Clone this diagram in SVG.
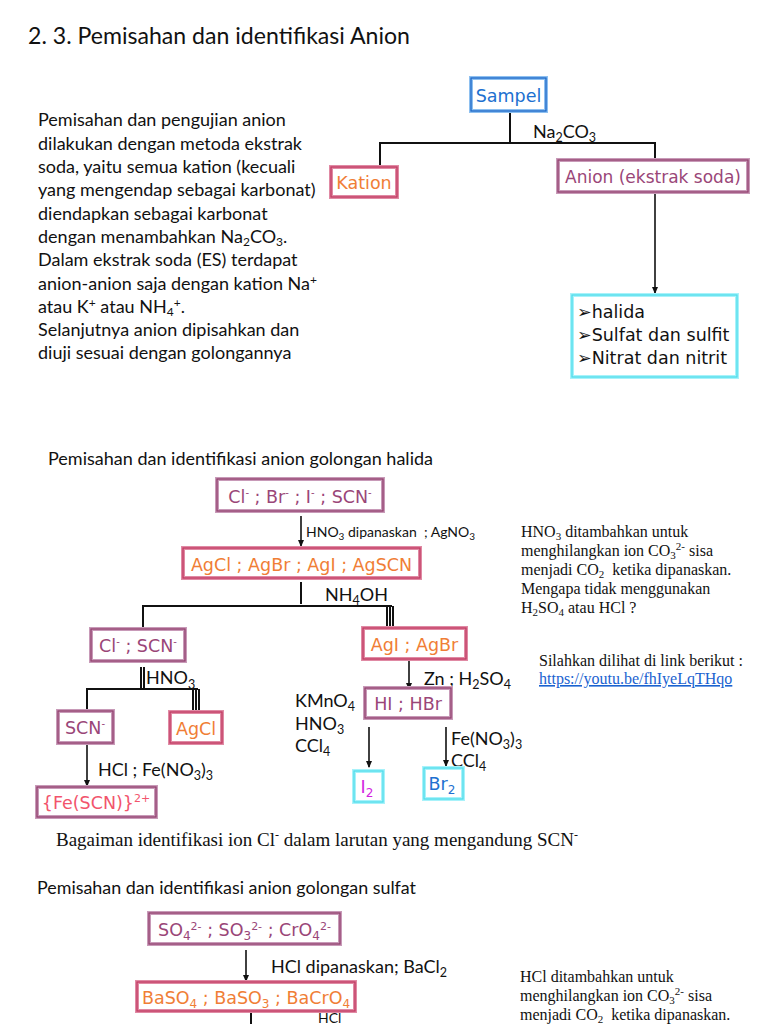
<svg xmlns="http://www.w3.org/2000/svg" width="768" height="1024" viewBox="0 0 768 1024">
<style>
.t{font-family:Lato,"Open Sans",sans-serif;fill:#111}
.bt{font-family:"DejaVu Sans",Verdana,sans-serif}
.sr{font-family:"Liberation Serif","Times New Roman",serif;fill:#111}
.pre{white-space:pre}
.mv{fill:#9a4678}.or{fill:#f07e36}.bl{fill:#2070d0}.rd{fill:#f2546c}.mg{fill:#d21ee0}.bk{fill:#111}
.bm{fill:#fff;stroke:#c89ab8;stroke-width:4}.im{fill:none;stroke:#93406f;stroke-width:1.3}
.br{fill:#fff;stroke:#e08aa4;stroke-width:4}.ir{fill:none;stroke:#c23a62;stroke-width:1.3}
.bb{fill:#fff;stroke:#8ec0f0;stroke-width:4}.ib{fill:none;stroke:#1c68c8;stroke-width:1.3}
.bc{fill:#fff;stroke:#a8f2fa;stroke-width:4}.ic{fill:none;stroke:#4fdcec;stroke-width:1.3}
.c{stroke:#111;stroke-width:2;fill:none}
.a{stroke:#111;stroke-width:1.6;fill:none;marker-end:url(#ah)}
</style>
<defs>
<marker id="ah" markerWidth="8" markerHeight="8" refX="6" refY="4" orient="auto" markerUnits="userSpaceOnUse">
<path d="M0,1 L7,4 L0,7 Z" fill="#111"/>
</marker>
</defs>
<rect width="768" height="1024" fill="#fff"/>

<text class="t" x="28" y="44" font-size="24" textLength="382" lengthAdjust="spacingAndGlyphs">2. 3. Pemisahan dan identifikasi Anion</text>

<g id="intro" class="t" font-size="18">
<text x="38" y="126">Pemisahan dan pengujian anion</text>
<text x="38" y="150">dilakukan dengan metoda ekstrak</text>
<text x="38" y="173">soda, yaitu semua kation (kecuali</text>
<text x="38" y="196">yang mengendap sebagai karbonat)</text>
<text x="38" y="220">diendapkan sebagai karbonat</text>
<text x="38" y="243">dengan menambahkan Na<tspan dy="3" font-size="12">2</tspan><tspan dy="-3">CO</tspan><tspan dy="3" font-size="12">3</tspan><tspan dy="-3">.</tspan></text>
<text x="38" y="266">Dalam ekstrak soda (ES) terdapat</text>
<text x="38" y="290">anion-anion saja dengan kation Na<tspan dy="-6" font-size="12">+</tspan></text>
<text x="38" y="313">atau K<tspan dy="-6" font-size="12">+</tspan><tspan dy="6"> atau NH</tspan><tspan dy="3" font-size="12">4</tspan><tspan dy="-9" font-size="12">+</tspan><tspan dy="6">.</tspan></text>
<text x="38" y="336">Selanjutnya anion dipisahkan dan</text>
<text x="38" y="359">diuji sesuai dengan golongannya</text>
</g>

<g id="connectors">
<line class="c" x1="510" y1="111" x2="510" y2="143"/>
<line class="c" x1="379" y1="143" x2="656" y2="143"/>
<line class="c" x1="380" y1="142" x2="380" y2="166" stroke-width="3"/>
<line class="c" x1="655" y1="142" x2="655" y2="160"/>
<line class="a" x1="655" y1="192" x2="655" y2="293"/>
<line class="a" x1="301" y1="516" x2="301" y2="546"/>
<line class="c" x1="301" y1="582" x2="301" y2="604"/>
<line class="c" x1="142" y1="606" x2="392" y2="606"/>
<line class="c" x1="143" y1="605" x2="143" y2="628"/>
<line class="c" x1="387" y1="606" x2="387" y2="627" stroke-width="1.2"/>
<line class="c" x1="390" y1="606" x2="390" y2="627" stroke-width="1.2"/>
<line class="c" x1="393" y1="606" x2="393" y2="627" stroke-width="1.2"/>
<line class="c" x1="141" y1="667" x2="141" y2="689" stroke-width="1.2"/>
<line class="c" x1="144" y1="667" x2="144" y2="689" stroke-width="1.2"/>
<line class="c" x1="86" y1="689" x2="198" y2="689"/>
<line class="c" x1="87" y1="688" x2="87" y2="711"/>
<line class="c" x1="193" y1="689" x2="193" y2="711" stroke-width="1.2"/>
<line class="c" x1="196" y1="689" x2="196" y2="711" stroke-width="1.2"/>
<line class="c" x1="199" y1="689" x2="199" y2="711" stroke-width="1.2"/>
<line class="a" x1="87" y1="745" x2="87" y2="786"/>
<line class="a" x1="409" y1="661" x2="409" y2="689"/>
<line class="a" x1="369" y1="727" x2="369" y2="767"/>
<line class="a" x1="446" y1="727" x2="446" y2="766"/>
<line class="a" x1="246" y1="950" x2="246" y2="981"/>
<line class="c" x1="251" y1="1013" x2="251" y2="1024"/>
</g>

<g id="sampel">
<rect class="bb" x="471" y="78" width="75" height="33"/><rect class="ib" x="471" y="78" width="75" height="33"/>
<text class="bt bl" x="508.5" y="102" font-size="17.5" text-anchor="middle">Sampel</text>
</g>
<text class="t" x="533" y="138" font-size="18">Na<tspan dy="4" font-size="12.5">2</tspan><tspan dy="-4">CO</tspan><tspan dy="4" font-size="12.5">3</tspan></text>

<g id="kation">
<rect class="br" x="331" y="167" width="66" height="30"/><rect class="ir" x="331" y="167" width="66" height="30"/>
<text class="bt or" x="364" y="189" font-size="17.5" text-anchor="middle">Kation</text>
</g>
<g id="anion">
<rect class="bm" x="558" y="160" width="190" height="32"/><rect class="im" x="558" y="160" width="190" height="32"/>
<text class="bt mv" x="653" y="183" font-size="17" text-anchor="middle">Anion (ekstrak soda)</text>
</g>
<g id="golongan">
<rect class="bc" x="572" y="295" width="165" height="82"/><rect class="ic" x="572" y="295" width="165" height="82"/>
<g class="bt bk" font-size="17.5">
<text x="577" y="318">➢halida</text>
<text x="577" y="341">➢Sulfat dan sulfit</text>
<text x="577" y="364">➢Nitrat dan nitrit</text>
</g>
</g>

<text class="t" x="48" y="465" font-size="17.5" textLength="385" lengthAdjust="spacingAndGlyphs">Pemisahan dan identifikasi anion golongan halida</text>

<g id="halida-ion">
<rect class="bm" x="217" y="479" width="166" height="32"/><rect class="im" x="217" y="479" width="166" height="32"/>
<text class="bt mv" x="300" y="503" font-size="17.5" text-anchor="middle">Cl<tspan dy="-7" font-size="10">-</tspan><tspan dy="7"> ; Br</tspan><tspan dy="-7" font-size="10">-</tspan><tspan dy="7"> ; I</tspan><tspan dy="-7" font-size="10">-</tspan><tspan dy="7"> ; SCN</tspan><tspan dy="-7" font-size="10">-</tspan></text>
</g>
<text class="t pre" x="306" y="537" font-size="14">HNO<tspan dy="3" font-size="10">3</tspan><tspan dy="-3"> dipanaskan  ; AgNO</tspan><tspan dy="3" font-size="10">3</tspan></text>

<g id="agx">
<rect class="br" x="183" y="548" width="237" height="30"/><rect class="ir" x="183" y="548" width="237" height="30"/>
<text class="bt or" x="301.5" y="571" font-size="17.5" text-anchor="middle">AgCl ; AgBr ; AgI ; AgSCN</text>
</g>
<text class="t" x="325" y="601" font-size="18">NH<tspan dy="4" font-size="12.5">4</tspan><tspan dy="-4">OH</tspan></text>

<g id="cl-scn">
<rect class="bm" x="91" y="629" width="94" height="32"/><rect class="im" x="91" y="629" width="94" height="32"/>
<text class="bt mv" x="138" y="652" font-size="17.5" text-anchor="middle">Cl<tspan dy="-7" font-size="10">-</tspan><tspan dy="7"> ; SCN</tspan><tspan dy="-7" font-size="10">-</tspan></text>
</g>
<text class="t" x="146" y="684" font-size="18">HNO<tspan dy="5" font-size="12.5">3</tspan></text>

<g id="scn">
<rect class="bm" x="58" y="711" width="55" height="32"/><rect class="im" x="58" y="711" width="55" height="32"/>
<text class="bt mv" x="85" y="734" font-size="17.5" text-anchor="middle">SCN<tspan dy="-7" font-size="10">-</tspan></text>
</g>
<g id="agcl">
<rect class="br" x="170" y="712" width="52" height="31"/><rect class="ir" x="170" y="712" width="52" height="31"/>
<text class="bt or" x="196" y="735" font-size="17.5" text-anchor="middle">AgCl</text>
</g>
<text class="t" x="98" y="776" font-size="18">HCl ; Fe(NO<tspan dy="4" font-size="12.5">3</tspan><tspan dy="-4">)</tspan><tspan dy="4" font-size="12.5">3</tspan></text>

<g id="fescn">
<rect class="bm" x="37" y="787" width="119" height="30"/><rect class="im" x="37" y="787" width="119" height="30"/>
<text class="bt rd" x="96" y="809" font-size="17.5" text-anchor="middle">{Fe(SCN)}<tspan dy="-7" font-size="11">2+</tspan></text>
</g>

<g id="agi-agbr">
<rect class="br" x="363" y="628" width="103" height="31"/><rect class="ir" x="363" y="628" width="103" height="31"/>
<text class="bt or" x="414.5" y="651" font-size="17.5" text-anchor="middle">AgI ; AgBr</text>
</g>
<text class="t" x="424" y="685" font-size="18">Zn ; H<tspan dy="4" font-size="12.5">2</tspan><tspan dy="-4">SO</tspan><tspan dy="4" font-size="12.5">4</tspan></text>

<g id="hi-hbr">
<rect class="bm" x="365" y="688" width="86" height="30"/><rect class="im" x="365" y="688" width="86" height="30"/>
<text class="bt mv" x="408" y="710" font-size="17.5" text-anchor="middle">HI ; HBr</text>
</g>
<g class="t" font-size="18">
<text x="295" y="707">KMnO<tspan dy="4" font-size="12.5">4</tspan></text>
<text x="295" y="730">HNO<tspan dy="4" font-size="12.5">3</tspan></text>
<text x="295" y="752">CCl<tspan dy="4" font-size="12.5">4</tspan></text>
<text x="451" y="745">Fe(NO<tspan dy="4" font-size="12.5">3</tspan><tspan dy="-4">)</tspan><tspan dy="4" font-size="12.5">3</tspan></text>
<text x="451" y="767">CCl<tspan dy="4" font-size="12.5">4</tspan></text>
</g>

<g id="i2">
<rect class="bc" x="354" y="771" width="29" height="31"/><rect class="ic" x="354" y="771" width="29" height="31"/>
<text class="bt mg" x="367" y="793" font-size="17.5" text-anchor="middle">I<tspan dy="4" font-size="12">2</tspan></text>
</g>
<g id="br2">
<rect class="bc" x="424" y="768" width="39" height="31"/><rect class="ic" x="424" y="768" width="39" height="31"/>
<text class="bt bl" x="442" y="790" font-size="17.5" text-anchor="middle">Br<tspan dy="4" font-size="12">2</tspan></text>
</g>

<g id="note1" class="sr" font-size="16">
<text x="521" y="537">HNO<tspan dy="3" font-size="11">3</tspan><tspan dy="-3"> ditambahkan untuk</tspan></text>
<text x="521" y="556">menghilangkan ion CO<tspan dy="3" font-size="11">3</tspan><tspan dy="-9" font-size="11">2-</tspan><tspan dy="6"> sisa</tspan></text>
<text class="pre" x="521" y="575">menjadi CO<tspan dy="3" font-size="11">2</tspan><tspan dy="-3">  ketika dipanaskan.</tspan></text>
<text x="521" y="594">Mengapa tidak menggunakan</text>
<text x="521" y="613">H<tspan dy="3" font-size="11">2</tspan><tspan dy="-3">SO</tspan><tspan dy="3" font-size="11">4</tspan><tspan dy="-3"> atau HCl ?</tspan></text>
<text x="539" y="666">Silahkan dilihat di link berikut :</text>
<text x="539" y="684" fill="#1a62d0" text-decoration="underline">https://youtu.be/fhIyeLqTHqo</text>
</g>

<text class="sr" x="56" y="846" font-size="19">Bagaiman identifikasi ion Cl<tspan dy="-7" font-size="12">-</tspan><tspan dy="7"> dalam larutan yang mengandung SCN</tspan><tspan dy="-7" font-size="12">-</tspan></text>

<text class="t" x="37" y="894" font-size="17.5" textLength="379" lengthAdjust="spacingAndGlyphs">Pemisahan dan identifikasi anion golongan sulfat</text>

<g id="sulfat-ion">
<rect class="bm" x="149" y="913" width="191" height="31"/><rect class="im" x="149" y="913" width="191" height="31"/>
<text class="bt mv" x="244.5" y="936" font-size="17.5" text-anchor="middle">SO<tspan dy="4" font-size="12">4</tspan><tspan dy="-10" font-size="11">2-</tspan><tspan dy="6"> ; SO</tspan><tspan dy="4" font-size="12">3</tspan><tspan dy="-10" font-size="11">2-</tspan><tspan dy="6"> ; CrO</tspan><tspan dy="4" font-size="12">4</tspan><tspan dy="-10" font-size="11">2-</tspan></text>
</g>
<text class="t" x="271" y="973" font-size="18">HCl dipanaskan; BaCl<tspan dy="4" font-size="12.5">2</tspan></text>

<g id="baso4">
<rect class="br" x="137" y="982" width="218" height="29"/><rect class="ir" x="137" y="982" width="218" height="29"/>
<text class="bt or" x="246" y="1004" font-size="17.5" text-anchor="middle">BaSO<tspan dy="4" font-size="12">4</tspan><tspan dy="-4"> ; BaSO</tspan><tspan dy="4" font-size="12">3</tspan><tspan dy="-4"> ; BaCrO</tspan><tspan dy="4" font-size="12">4</tspan></text>
</g>
<text class="t" x="318" y="1023" font-size="14">HCl</text>

<g id="note2" class="sr" font-size="16">
<text x="520" y="982">HCl ditambahkan untuk</text>
<text x="520" y="1001">menghilangkan ion CO<tspan dy="3" font-size="11">3</tspan><tspan dy="-9" font-size="11">2-</tspan><tspan dy="6"> sisa</tspan></text>
<text class="pre" x="520" y="1020">menjadi CO<tspan dy="3" font-size="11">2</tspan><tspan dy="-3">  ketika dipanaskan.</tspan></text>
</g>
</svg>
